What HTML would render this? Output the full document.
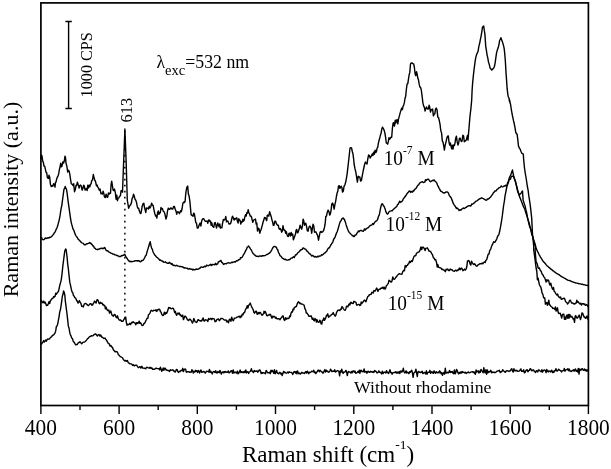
<!DOCTYPE html>
<html><head><meta charset="utf-8"><title>Raman spectra</title>
<style>html,body{margin:0;padding:0;background:#fff}svg{display:block}</style>
</head><body>
<svg width="611" height="469" viewBox="0 0 611 469">
<rect width="611" height="469" fill="#fff"/>
<g fill="none" stroke="#000" stroke-width="1.4" stroke-linejoin="round">
<path d="M41.0 159.1 L41.5 155.2 L42.0 156.1 L42.7 161.2 L43.3 162.1 L44.0 166.1 L44.7 166.2 L45.3 168.8 L46.0 172.1 L46.7 172.7 L47.4 177.6 L48.0 178.1 L48.5 178.4 L49.0 175.1 L49.7 177.3 L50.4 184.1 L51.2 186.5 L52.0 185.7 L52.8 186.2 L53.6 183.7 L54.3 184.5 L55.0 187.1 L55.5 182.1 L56.0 182.1 L56.7 178.9 L57.4 177.0 L58.0 176.1 L58.7 173.7 L59.4 169.5 L60.0 167.1 L60.7 163.3 L61.4 166.8 L62.0 166.1 L62.8 162.0 L63.6 163.1 L64.3 161.1 L65.0 156.1 L65.5 157.5 L66.0 163.1 L66.9 166.4 L67.7 172.1 L68.4 170.2 L69.1 171.1 L69.8 174.2 L70.5 179.1 L71.3 183.8 L72.1 184.1 L72.9 185.4 L73.7 183.7 L74.5 191.8 L75.3 189.5 L76.1 185.1 L76.7 185.5 L77.4 182.1 L78.1 184.5 L78.6 185.5 L79.1 188.1 L79.8 185.7 L80.5 185.1 L81.3 186.0 L82.1 190.1 L82.9 188.5 L83.7 185.1 L84.4 186.4 L85.1 190.1 L85.7 189.1 L86.4 188.6 L87.1 190.6 L87.8 185.2 L88.4 188.0 L89.1 185.1 L89.8 186.9 L90.4 184.5 L91.1 183.7 L91.8 180.3 L92.5 180.1 L93.3 174.5 L94.1 178.1 L94.9 180.4 L95.7 182.1 L96.4 185.7 L97.1 185.1 L97.8 187.1 L98.5 188.1 L99.3 190.2 L100.1 189.1 L100.9 193.7 L101.7 193.2 L102.4 194.1 L103.1 191.2 L103.8 193.4 L104.5 197.2 L105.3 197.5 L106.1 194.2 L106.9 197.0 L107.7 197.2 L108.4 193.0 L109.1 194.2 L109.8 193.0 L110.5 193.2 L111.1 184.7 L111.7 181.1 L112.4 185.5 L113.1 190.1 L113.8 190.6 L114.5 189.1 L115.3 192.3 L116.1 199.2 L116.8 195.3 L117.5 200.7 L118.1 198.2 L118.9 197.8 L119.7 196.2 L120.4 195.9 L121.1 190.6 L121.8 191.0 L122.5 192.2 L123.1 176.4 L123.7 160.1 L124.3 145.2 L124.9 129.0 L125.5 145.2 L126.1 160.1 L126.7 180.1 L127.3 200.2 L128.0 204.3 L128.6 208.2 L129.4 206.4 L130.2 205.2 L130.8 204.5 L131.5 202.3 L132.2 198.2 L132.8 197.5 L133.5 194.3 L134.2 195.8 L135.0 199.2 L135.8 200.2 L136.5 202.4 L137.2 206.2 L137.9 208.3 L138.6 208.2 L139.4 211.1 L140.2 213.2 L140.8 213.6 L141.5 210.5 L142.2 206.2 L143.0 203.9 L143.8 203.2 L144.5 207.3 L145.2 210.2 L145.8 212.5 L146.5 207.9 L147.2 208.2 L147.9 208.3 L148.5 208.9 L149.2 206.2 L150.0 208.0 L150.8 206.5 L151.6 203.1 L152.4 205.1 L153.2 205.5 L154.0 210.1 L154.8 213.5 L155.6 216.1 L156.3 215.6 L156.9 218.0 L157.6 212.5 L158.3 211.0 L158.9 214.4 L159.6 212.5 L160.3 212.7 L161.0 207.4 L161.6 209.1 L162.4 208.6 L163.2 211.1 L164.0 211.7 L164.7 213.3 L165.4 216.4 L166.0 219.1 L166.8 216.3 L167.6 210.4 L168.4 208.1 L169.2 209.4 L170.0 209.1 L170.7 208.0 L171.4 208.2 L172.0 209.1 L172.8 209.1 L173.6 206.4 L174.4 206.5 L175.2 209.3 L176.0 211.1 L176.7 214.2 L177.4 211.8 L178.0 212.1 L178.7 212.0 L179.4 213.6 L180.0 212.5 L180.7 210.6 L181.4 211.7 L182.1 208.5 L182.9 203.1 L183.7 202.1 L184.4 202.6 L185.1 201.1 L185.6 195.2 L186.1 191.1 L186.9 187.2 L187.7 186.1 L188.4 194.1 L189.1 196.1 L189.8 200.6 L190.5 208.1 L191.1 214.6 L191.7 215.1 L192.3 215.6 L193.0 216.3 L193.7 213.1 L194.4 214.0 L195.1 218.1 L195.8 222.7 L196.5 223.1 L197.3 228.1 L198.1 228.1 L198.7 226.3 L199.4 224.6 L200.1 223.1 L200.9 226.0 L201.7 220.8 L202.5 219.1 L203.2 218.7 L203.8 218.7 L204.5 220.1 L205.2 221.2 L205.8 221.4 L206.5 221.1 L207.2 221.1 L207.8 223.4 L208.5 220.1 L209.2 219.9 L209.8 221.6 L210.5 221.1 L211.2 225.3 L211.8 222.8 L212.5 226.1 L213.2 226.9 L213.8 227.3 L214.5 223.1 L215.2 222.5 L215.8 224.6 L216.5 228.1 L217.2 225.4 L217.8 223.0 L218.5 225.1 L219.2 226.9 L219.8 224.0 L220.5 228.1 L221.2 227.5 L221.9 227.7 L222.5 223.7 L223.4 219.5 L224.3 220.1 L225.1 219.1 L225.8 216.5 L226.5 221.8 L227.1 221.1 L227.8 220.9 L228.5 222.7 L229.1 224.1 L229.8 223.6 L230.5 223.7 L231.1 222.1 L231.8 218.5 L232.5 216.1 L233.3 218.1 L234.1 220.1 L234.8 218.5 L235.5 219.0 L236.1 218.1 L236.8 217.8 L237.5 221.6 L238.1 223.1 L238.8 218.8 L239.5 220.3 L240.1 220.1 L240.8 224.1 L241.5 221.6 L242.2 222.1 L242.8 219.3 L243.5 221.2 L244.2 220.1 L244.8 217.1 L245.5 214.6 L246.2 216.1 L246.8 212.7 L247.5 213.1 L248.2 209.7 L248.8 212.5 L249.5 213.8 L250.2 216.1 L250.8 215.9 L251.5 217.0 L252.2 220.1 L252.8 222.3 L253.5 220.3 L254.2 219.7 L254.8 219.6 L255.5 219.1 L256.2 224.1 L256.8 223.1 L257.5 231.0 L258.2 228.1 L259.0 228.7 L259.8 233.2 L260.4 231.0 L261.1 229.5 L261.8 227.1 L262.5 224.5 L263.1 222.0 L263.8 220.1 L264.5 217.5 L265.3 217.7 L266.0 219.1 L266.7 220.7 L267.3 215.2 L268.0 215.1 L268.8 216.2 L269.6 211.6 L270.4 214.1 L271.2 216.7 L272.0 220.1 L272.7 222.3 L273.3 225.3 L274.0 225.2 L274.8 221.2 L275.6 221.2 L276.3 223.5 L277.0 224.5 L277.6 225.2 L278.3 225.2 L279.0 228.6 L279.6 229.2 L280.3 228.6 L281.0 229.8 L281.6 232.2 L282.3 231.1 L283.0 225.6 L283.6 229.2 L284.3 230.3 L285.0 230.1 L285.6 233.2 L286.3 231.7 L287.0 234.5 L287.6 236.2 L288.3 236.5 L289.0 233.5 L289.6 233.2 L290.4 236.0 L291.2 232.5 L292.0 235.2 L292.7 234.0 L293.4 239.8 L294.0 238.2 L294.7 236.2 L295.4 234.4 L296.1 230.2 L296.7 229.4 L297.4 232.9 L298.1 232.2 L298.7 230.3 L299.4 228.6 L300.1 225.2 L300.9 227.2 L301.7 229.2 L302.4 226.2 L303.1 219.1 L303.8 221.1 L304.5 225.2 L305.1 223.9 L305.8 223.3 L306.5 226.2 L307.3 230.6 L308.1 231.2 L308.7 228.2 L309.4 226.1 L310.1 226.2 L310.9 228.1 L311.7 233.2 L312.4 227.9 L313.1 224.2 L313.8 226.0 L314.5 232.2 L315.2 232.0 L315.8 231.8 L316.5 233.2 L317.2 234.6 L317.8 236.2 L318.5 240.2 L319.3 236.2 L320.1 232.2 L320.8 231.4 L321.4 232.4 L322.1 232.2 L322.9 231.6 L323.7 230.2 L324.4 227.7 L325.1 224.2 L325.8 216.4 L326.5 216.1 L327.3 212.2 L328.1 210.1 L328.9 211.3 L329.7 215.1 L330.4 213.9 L331.1 210.1 L331.8 203.9 L332.5 203.1 L333.3 204.9 L334.1 209.1 L334.9 204.6 L335.7 201.1 L336.4 196.5 L337.1 193.1 L337.8 191.3 L338.5 186.1 L339.2 185.7 L339.9 188.4 L340.5 187.1 L341.2 186.3 L341.9 187.3 L342.5 192.1 L343.3 191.2 L344.1 186.1 L344.9 184.8 L345.7 182.1 L346.4 178.3 L347.1 174.1 L347.8 168.1 L348.5 162.0 L349.1 156.7 L349.7 151.0 L350.0 148.2 L350.8 147.7 L351.6 148.2 L352.3 151.5 L353.0 154.0 L353.6 158.8 L354.1 164.0 L354.9 168.4 L355.8 172.0 L356.6 177.1 L357.4 182.1 L358.2 176.2 L359.0 177.1 L359.8 176.9 L360.6 181.1 L361.4 180.5 L362.2 176.1 L363.0 171.8 L363.8 168.0 L364.6 164.4 L365.4 162.0 L366.2 163.4 L367.0 164.0 L367.8 158.8 L368.6 155.0 L369.4 155.6 L370.2 158.0 L370.8 156.9 L371.5 155.6 L372.2 154.0 L372.9 155.6 L373.6 152.2 L374.3 154.3 L375.1 150.2 L375.7 152.6 L376.4 151.8 L377.1 148.2 L377.7 147.3 L378.4 143.1 L379.1 140.2 L379.7 138.1 L380.4 135.3 L381.1 133.2 L381.8 128.9 L382.5 127.1 L383.3 128.5 L384.1 130.1 L384.9 133.1 L385.7 138.2 L386.3 143.0 L387.0 143.1 L387.7 144.2 L388.3 141.7 L389.0 137.6 L389.7 139.2 L390.3 138.4 L391.0 137.1 L391.7 137.2 L392.4 128.3 L393.1 123.1 L393.8 122.7 L394.5 126.1 L395.2 120.3 L395.8 123.1 L396.5 120.1 L397.2 119.7 L397.8 123.8 L398.5 119.1 L399.3 116.1 L400.1 113.1 L400.9 110.4 L401.7 108.1 L402.4 109.6 L403.0 106.3 L403.7 105.1 L404.4 102.4 L405.0 98.5 L405.7 96.1 L406.4 89.0 L407.1 84.1 L407.8 83.6 L408.4 79.7 L409.1 75.0 L409.8 72.4 L410.5 64.0 L411.3 62.9 L412.1 63.0 L412.9 63.6 L413.7 64.0 L414.4 67.5 L415.1 74.0 L415.8 75.7 L416.5 71.7 L417.1 74.0 L417.8 78.0 L418.5 80.0 L419.2 84.2 L419.9 87.1 L420.5 87.1 L421.3 90.0 L422.1 96.1 L422.9 102.9 L423.7 106.1 L424.4 107.4 L425.1 111.1 L425.8 108.8 L426.5 106.9 L427.1 108.1 L427.8 109.1 L428.5 108.9 L429.1 105.1 L429.8 107.6 L430.5 112.1 L431.2 109.8 L431.9 109.5 L432.6 109.1 L433.4 115.9 L434.2 114.1 L434.8 113.8 L435.5 109.2 L436.2 108.1 L437.0 109.6 L437.8 117.1 L438.5 117.5 L439.2 120.1 L440.0 124.1 L440.8 130.6 L441.6 133.1 L442.3 140.8 L443.0 142.1 L443.7 145.6 L444.4 150.1 L445.2 144.9 L446.0 142.1 L446.8 138.2 L447.6 136.1 L448.3 135.9 L449.0 142.1 L449.7 145.0 L450.4 142.9 L451.0 146.1 L451.7 148.9 L452.4 145.2 L453.0 149.1 L453.7 144.9 L454.4 145.6 L455.0 143.1 L455.7 138.3 L456.4 136.1 L457.2 141.9 L458.0 145.1 L458.7 142.8 L459.4 138.4 L460.0 138.1 L460.7 140.1 L461.4 141.5 L462.0 141.1 L462.8 135.3 L463.6 136.1 L464.3 141.7 L465.0 141.1 L465.7 140.6 L466.4 139.7 L467.0 137.1 L467.5 135.4 L468.0 140.1 L468.5 133.7 L469.0 128.1 L469.5 121.9 L470.0 116.0 L470.9 108.6 L471.7 100.0 L472.1 90.2 L472.6 83.4 L473.1 78.1 L473.8 71.7 L474.5 66.1 L475.3 60.1 L476.1 56.1 L476.7 54.3 L477.4 52.9 L478.1 51.1 L478.9 46.2 L479.7 43.1 L480.4 39.3 L481.1 36.1 L481.8 31.8 L482.5 27.0 L483.1 27.3 L483.7 26.0 L484.3 30.4 L484.9 34.1 L485.7 46.1 L486.4 50.4 L487.1 55.1 L487.8 58.0 L488.5 62.1 L489.3 64.6 L490.1 68.1 L490.9 68.8 L491.7 70.1 L492.4 69.5 L493.0 68.8 L493.7 68.1 L494.4 66.5 L495.1 63.1 L495.8 58.2 L496.5 53.1 L497.3 50.1 L498.1 48.1 L498.9 44.8 L499.7 40.1 L500.3 39.3 L500.9 37.7 L501.7 39.9 L502.5 42.1 L503.3 44.7 L504.1 48.1 L504.7 53.2 L505.3 60.1 L506.1 74.1 L506.6 80.6 L507.1 88.2 L507.6 92.6 L508.1 96.2 L508.8 97.8 L509.4 99.5 L510.1 102.2 L509.6 101.2 L509.1 100.0 L509.8 102.1 L510.5 104.0 L511.3 109.3 L512.1 114.0 L512.8 117.4 L513.5 120.7 L514.1 123.0 L514.9 127.1 L515.7 132.1 L516.4 133.6 L517.1 134.1 L517.8 139.6 L518.5 146.1 L519.3 147.9 L520.1 149.1 L520.9 151.2 L521.7 153.1 L522.5 153.7 L523.3 154.1 L523.7 160.0 L524.5 168.0 L525.3 173.5 L526.1 178.0 L526.7 182.0 L527.4 186.6 L528.1 190.1 L528.7 195.2 L529.4 199.5 L530.1 204.1 L530.9 210.8 L531.7 218.1 L532.5 234.2 L533.1 239.8 L533.7 246.2 L533.7 250.0 L534.4 254.7 L535.1 260.0 L535.6 263.9 L536.1 268.0 L536.8 271.3 L537.4 279.8 L538.1 278.1 L538.8 281.8 L539.4 284.7 L540.1 286.1 L540.8 287.0 L541.4 289.5 L542.1 293.1 L542.8 294.2 L543.4 296.8 L544.1 298.1 L544.8 298.0 L545.4 304.2 L546.1 303.1 L546.8 302.4 L547.4 305.3 L548.1 303.7 L548.8 300.2 L549.4 304.6 L550.1 305.1 L550.8 306.3 L551.5 306.8 L552.1 307.1 L552.8 308.5 L553.5 308.3 L554.1 308.1 L554.8 309.4 L555.5 306.9 L556.1 311.1 L556.8 310.3 L557.5 307.8 L558.1 312.1 L558.8 313.5 L559.5 313.3 L560.1 313.1 L560.9 315.3 L561.7 318.1 L562.4 314.7 L563.1 314.1 L563.8 314.1 L564.5 319.3 L565.1 317.1 L565.8 319.4 L566.5 315.7 L567.1 315.1 L567.8 318.3 L568.5 314.4 L569.1 318.1 L569.8 314.5 L570.5 316.7 L571.1 317.1 L571.8 316.3 L572.5 317.5 L573.2 319.1 L573.8 318.5 L574.5 322.3 L575.2 316.1 L575.8 315.7 L576.5 317.6 L577.2 318.1 L577.8 317.6 L578.5 316.1 L579.2 315.1 L579.8 317.4 L580.5 319.5 L581.2 317.1 L581.9 313.0 L582.6 313.1 L583.4 315.4 L584.2 317.1 L584.8 317.0 L585.5 318.4 L586.2 318.1 L586.8 316.2 L587.5 316.5 L588.2 320.1"/>
<path d="M41.0 238.1 L41.7 237.7 L42.3 239.4 L43.0 239.7 L43.8 239.5 L44.5 239.2 L45.3 237.9 L46.0 238.5 L46.8 238.3 L47.5 238.0 L48.3 237.7 L49.0 238.1 L49.8 237.3 L50.5 237.4 L51.3 236.8 L52.0 236.1 L52.8 235.1 L53.5 234.3 L54.3 232.9 L55.0 232.1 L55.7 230.6 L56.3 229.1 L57.0 227.8 L57.6 226.1 L58.3 223.4 L59.0 220.7 L59.6 218.1 L60.2 214.7 L60.7 211.1 L61.2 208.1 L61.8 205.6 L62.3 201.6 L62.8 198.0 L63.4 193.7 L64.0 189.0 L64.6 188.6 L65.2 186.4 L65.8 188.3 L66.4 189.0 L67.1 192.9 L67.7 198.0 L68.4 203.3 L69.1 208.1 L69.8 213.4 L70.5 218.1 L71.1 221.8 L71.8 224.6 L72.5 227.1 L73.1 229.2 L73.8 230.1 L74.4 232.0 L75.1 234.1 L75.8 235.5 L76.6 236.8 L77.3 237.5 L78.1 239.1 L78.8 239.7 L79.6 240.5 L80.3 241.4 L81.1 242.1 L81.8 242.9 L82.6 243.2 L83.3 243.4 L84.1 244.5 L84.8 244.8 L85.6 244.8 L86.3 243.9 L87.1 243.7 L87.7 243.8 L88.4 243.3 L89.0 243.1 L89.7 242.5 L90.3 243.2 L90.9 243.2 L91.5 244.3 L92.1 244.5 L92.8 245.8 L93.6 246.0 L94.3 248.0 L95.1 248.1 L95.8 249.2 L96.6 249.4 L97.4 249.7 L98.1 249.1 L98.9 249.3 L99.6 248.7 L100.4 248.5 L101.1 248.5 L101.8 248.2 L102.4 248.5 L103.1 248.3 L103.8 248.5 L104.4 247.4 L105.1 248.1 L105.8 249.9 L106.4 250.7 L107.1 250.6 L107.9 251.0 L108.6 251.8 L109.4 252.2 L110.1 252.6 L110.9 253.1 L111.6 253.3 L112.4 253.7 L113.1 254.2 L113.9 254.1 L114.6 254.7 L115.4 254.9 L116.1 255.2 L116.9 255.6 L117.6 255.5 L118.4 256.2 L119.1 256.6 L119.8 256.4 L120.5 256.5 L121.1 256.2 L121.8 255.4 L122.5 255.7 L123.1 255.2 L123.7 255.2 L124.2 254.7 L124.7 254.2 L125.4 255.5 L126.1 257.2 L126.8 258.0 L127.5 259.1 L128.2 260.2 L128.9 260.9 L129.7 261.6 L130.4 261.3 L131.2 261.8 L131.9 261.4 L132.7 261.6 L133.4 261.4 L134.2 261.2 L134.9 260.7 L135.7 260.6 L136.4 260.7 L137.2 260.6 L137.9 261.1 L138.7 260.7 L139.4 261.1 L140.2 261.8 L140.9 261.6 L141.7 260.5 L142.4 260.6 L143.2 260.2 L143.9 259.1 L144.7 257.6 L145.4 256.0 L146.2 255.2 L146.8 252.8 L147.5 250.4 L148.2 248.1 L148.9 246.1 L149.5 243.5 L150.2 241.7 L150.9 245.3 L151.6 248.1 L152.3 249.1 L152.9 251.4 L153.6 253.1 L154.2 253.9 L154.8 255.2 L155.4 255.4 L156.0 256.5 L156.8 257.4 L157.5 257.6 L158.3 258.7 L159.0 259.1 L159.8 260.3 L160.5 259.9 L161.3 260.8 L162.0 261.1 L162.7 261.0 L163.4 262.0 L164.0 262.3 L164.7 262.1 L165.4 261.8 L166.0 262.5 L166.7 262.8 L167.4 263.2 L168.0 263.2 L168.7 263.2 L169.4 262.3 L170.0 263.1 L170.7 263.2 L171.4 264.3 L172.0 263.6 L172.7 264.9 L173.4 265.5 L174.0 265.1 L174.7 265.6 L175.4 265.9 L176.0 265.5 L176.7 265.3 L177.4 265.9 L178.0 266.1 L178.7 266.1 L179.4 266.3 L180.0 266.7 L180.7 266.5 L181.4 266.7 L182.1 266.7 L182.7 267.1 L183.4 267.2 L184.1 268.2 L184.7 267.8 L185.4 267.9 L186.1 268.1 L186.7 268.2 L187.4 268.2 L188.1 269.2 L188.7 268.9 L189.4 268.5 L190.1 269.1 L190.7 269.0 L191.4 269.3 L192.1 269.2 L192.7 270.0 L193.4 269.2 L194.1 269.7 L194.7 269.8 L195.4 269.6 L196.1 269.0 L196.7 269.3 L197.4 269.2 L198.1 269.1 L198.7 269.0 L199.4 268.3 L200.1 268.2 L200.7 267.1 L201.4 267.0 L202.1 267.1 L202.8 267.3 L203.4 267.2 L204.1 266.6 L204.8 266.2 L205.4 266.7 L206.1 266.1 L206.8 265.1 L207.4 265.5 L208.1 265.9 L208.8 265.7 L209.4 264.9 L210.1 265.1 L210.8 264.3 L211.4 265.5 L212.1 264.9 L212.8 264.4 L213.4 264.6 L214.1 264.5 L214.9 264.8 L215.6 263.3 L216.4 264.7 L217.1 264.1 L217.8 263.6 L218.4 261.7 L219.1 261.7 L219.8 261.4 L220.5 260.5 L221.0 260.5 L221.6 262.3 L222.1 262.5 L222.8 263.2 L223.5 264.5 L224.1 264.1 L224.9 263.6 L225.6 263.6 L226.4 263.8 L227.1 263.1 L227.9 262.9 L228.6 262.8 L229.4 263.0 L230.1 263.1 L230.9 262.8 L231.6 262.2 L232.4 262.6 L233.1 262.1 L233.9 262.1 L234.6 261.6 L235.4 262.0 L236.1 261.1 L236.9 260.6 L237.6 260.9 L238.4 259.8 L239.1 259.7 L239.9 259.4 L240.6 257.6 L241.4 257.8 L242.2 257.1 L242.8 256.0 L243.4 254.9 L244.0 253.8 L244.6 253.1 L245.2 251.6 L245.9 250.1 L246.6 249.1 L247.2 247.2 L247.9 246.8 L248.6 246.1 L249.2 246.9 L249.9 247.9 L250.6 249.1 L251.2 249.8 L251.9 251.3 L252.6 252.5 L253.2 253.7 L253.9 254.1 L254.6 255.1 L255.2 255.1 L255.9 256.1 L256.5 256.2 L257.2 256.1 L257.9 256.5 L258.7 256.6 L259.4 256.0 L260.2 256.1 L260.9 255.9 L261.7 256.3 L262.4 255.6 L263.2 255.7 L263.6 255.7 L264.0 255.7 L264.8 255.6 L265.5 255.3 L266.3 254.7 L267.0 254.5 L267.8 254.4 L268.5 253.5 L269.3 253.3 L270.0 252.5 L270.6 252.0 L271.2 250.8 L271.8 249.8 L272.4 248.5 L273.1 247.4 L273.7 246.7 L274.4 246.5 L275.1 246.5 L275.8 247.1 L276.4 247.1 L277.0 249.1 L277.5 249.3 L278.0 251.1 L278.7 252.8 L279.4 253.9 L280.0 255.7 L280.8 256.1 L281.5 257.0 L282.3 258.1 L283.0 258.5 L283.8 258.9 L284.5 259.6 L285.3 259.1 L286.0 259.7 L286.8 260.1 L287.5 260.1 L288.3 259.8 L289.0 259.7 L289.8 259.5 L290.5 258.7 L291.3 258.1 L292.0 258.1 L292.8 257.4 L293.5 256.7 L294.3 257.5 L295.1 255.7 L295.8 254.7 L296.6 254.8 L297.3 253.4 L298.1 252.5 L298.8 252.0 L299.6 251.4 L300.3 250.1 L301.1 249.7 L301.7 249.7 L302.4 249.1 L303.0 247.9 L303.7 248.1 L304.3 248.7 L305.0 249.0 L305.7 249.1 L306.3 250.1 L306.9 251.3 L307.5 251.2 L308.1 252.1 L308.8 253.1 L309.6 253.9 L310.3 254.0 L311.1 255.1 L311.8 256.0 L312.6 255.4 L313.3 255.8 L314.1 256.7 L314.8 257.1 L315.6 256.5 L316.3 257.0 L317.1 257.1 L317.8 256.2 L318.6 256.7 L319.3 255.9 L320.1 256.1 L320.8 255.9 L321.6 254.7 L322.3 255.1 L323.1 254.5 L323.8 253.7 L324.6 253.2 L325.4 252.4 L326.1 251.7 L326.9 250.9 L327.6 249.4 L328.4 248.0 L329.1 248.1 L329.9 246.9 L330.6 245.2 L331.4 244.2 L332.1 243.1 L332.9 241.8 L333.6 239.3 L334.4 238.3 L335.1 237.1 L335.8 235.1 L336.4 233.2 L337.1 232.0 L337.7 230.1 L338.4 227.7 L339.1 225.1 L339.7 223.1 L340.4 221.3 L341.1 220.7 L341.7 219.1 L342.3 218.5 L342.8 218.6 L343.3 218.1 L343.9 219.2 L344.4 219.3 L344.9 221.1 L345.5 222.3 L346.0 224.4 L346.5 226.1 L347.2 227.9 L347.9 229.7 L348.5 231.1 L349.2 232.3 L349.8 233.2 L350.5 233.5 L351.1 234.5 L351.8 234.9 L352.4 235.8 L353.1 235.8 L353.7 236.5 L354.4 236.5 L355.1 234.9 L355.8 235.1 L356.4 234.4 L357.1 233.0 L357.8 232.1 L358.4 230.9 L359.0 231.7 L359.6 231.0 L360.2 230.5 L360.8 230.6 L361.4 230.4 L362.0 230.8 L362.6 231.1 L363.2 231.4 L363.9 230.3 L364.5 228.9 L365.2 230.1 L365.9 229.1 L366.7 228.4 L367.4 228.2 L368.2 227.7 L368.9 226.9 L369.7 226.0 L370.4 225.4 L371.2 225.1 L371.9 225.0 L372.7 223.5 L373.4 224.4 L374.2 223.1 L374.9 222.1 L375.7 221.1 L376.4 221.1 L377.2 220.1 L377.9 218.6 L378.5 216.3 L379.2 215.1 L379.9 211.8 L380.6 208.0 L381.3 205.1 L382.0 203.7 L382.7 204.1 L383.3 205.8 L384.0 206.1 L384.7 208.0 L385.3 209.6 L386.0 212.1 L386.5 213.0 L387.1 213.8 L387.6 214.1 L388.2 213.4 L388.8 211.9 L389.4 211.7 L390.0 211.1 L390.8 210.9 L391.5 210.7 L392.3 210.8 L393.0 209.7 L393.8 209.0 L394.5 208.2 L395.3 207.8 L396.0 207.1 L396.8 206.5 L397.5 204.4 L398.3 204.2 L399.0 202.5 L399.7 201.2 L400.3 202.4 L401.0 201.6 L401.6 201.7 L402.2 201.0 L402.8 200.2 L403.4 198.5 L404.0 198.1 L404.8 197.0 L405.5 196.0 L406.3 195.0 L407.0 193.7 L407.8 192.7 L408.5 192.0 L409.3 191.0 L410.0 191.1 L410.7 192.4 L411.3 191.5 L411.9 191.8 L412.5 192.1 L413.1 190.7 L413.8 191.0 L414.4 189.6 L415.1 189.1 L415.8 188.7 L416.6 187.4 L417.3 186.1 L418.1 185.1 L418.8 184.6 L419.6 183.1 L420.3 182.7 L421.1 182.1 L421.7 181.9 L422.4 181.8 L423.0 182.4 L423.7 182.5 L424.3 181.9 L424.9 182.0 L425.5 179.6 L426.1 180.5 L426.7 179.8 L427.3 179.4 L427.9 179.2 L428.5 179.1 L429.1 180.1 L429.8 181.0 L430.5 181.7 L431.1 181.3 L431.8 180.7 L432.4 180.7 L433.1 180.1 L433.7 180.6 L434.4 180.1 L435.0 181.2 L435.7 181.7 L436.3 182.2 L436.9 183.4 L437.5 185.0 L438.1 186.1 L438.7 187.4 L439.3 188.6 L439.9 189.5 L440.5 191.1 L441.2 191.4 L441.8 191.5 L442.5 192.4 L443.1 192.7 L443.8 192.8 L444.4 193.1 L445.1 192.7 L445.7 192.1 L446.3 191.9 L446.9 192.1 L447.5 192.0 L448.1 192.5 L448.7 193.8 L449.3 195.6 L449.9 196.2 L450.5 197.1 L451.2 197.7 L451.8 199.6 L452.5 201.1 L453.1 203.1 L453.8 204.3 L454.4 205.1 L455.1 206.2 L455.7 207.1 L456.4 208.4 L457.1 208.0 L457.8 208.6 L458.5 209.5 L459.2 210.5 L459.8 210.0 L460.5 209.7 L461.1 210.1 L461.9 208.9 L462.6 208.7 L463.4 207.9 L464.1 208.5 L464.9 208.1 L465.6 207.5 L466.4 207.4 L467.1 206.5 L467.9 206.3 L468.6 205.8 L469.4 205.6 L470.1 205.7 L470.9 206.0 L471.7 204.0 L472.4 204.3 L473.2 203.7 L473.9 203.1 L474.7 202.7 L475.4 201.6 L476.2 201.1 L476.9 200.8 L477.7 200.4 L478.4 199.5 L479.2 199.1 L479.9 198.6 L480.7 198.5 L481.4 197.8 L482.2 198.1 L482.9 198.4 L483.7 198.7 L484.4 199.4 L485.2 199.7 L485.9 200.3 L486.7 200.1 L487.4 199.0 L488.2 199.1 L488.9 198.7 L489.7 197.8 L490.4 197.3 L491.2 196.1 L491.9 195.1 L492.7 194.2 L493.4 192.8 L494.2 192.1 L494.9 190.9 L495.7 191.1 L496.4 190.5 L497.2 189.1 L497.8 189.0 L498.4 188.4 L499.0 187.7 L499.8 187.6 L500.5 186.9 L501.3 185.9 L502.0 186.7 L502.8 186.9 L503.5 186.5 L504.3 185.9 L505.0 186.1 L505.7 185.2 L506.4 186.1 L507.0 185.1 L507.7 182.4 L508.4 182.7 L509.0 180.0 L509.7 179.4 L510.4 179.3 L511.1 177.0 L511.7 176.3 L512.4 176.4 L513.1 176.0 L513.7 177.1 L514.4 178.8 L515.1 180.0 L515.7 182.9 L516.4 185.6 L517.1 189.1 L517.7 191.7 L518.4 192.6 L519.1 195.1 L519.7 194.1 L520.4 194.0 L521.1 193.1 L521.8 191.8 L522.5 191.1 L523.1 200.1 L523.7 201.9 L524.4 204.3 L525.1 206.1 L525.8 209.4 L526.6 212.4 L527.3 216.6 L528.1 220.1 L528.8 222.8 L529.6 226.6 L530.3 227.8 L531.1 231.2 L531.8 234.4 L532.6 236.3 L533.3 239.3 L534.1 242.2 L534.5 243.5 L534.9 245.0 L535.6 246.9 L536.3 248.6 L537.0 250.3 L537.7 251.9 L538.4 252.9 L539.0 254.5 L539.7 255.7 L540.5 257.1 L541.3 258.4 L542.1 259.6 L542.9 261.0 L543.6 261.9 L544.3 262.5 L545.0 263.3 L545.6 264.0 L546.3 264.9 L547.0 265.7 L547.7 266.3 L548.5 267.1 L549.3 267.6 L550.1 268.4 L550.9 269.1 L551.7 269.5 L552.5 270.5 L553.3 270.8 L554.1 271.6 L554.9 272.2 L555.7 272.7 L556.5 273.4 L557.3 273.8 L558.1 274.2 L558.9 274.7 L559.7 275.2 L560.5 275.9 L561.3 276.5 L562.1 276.8 L562.9 277.2 L563.7 277.8 L564.5 278.1 L565.3 278.6 L566.1 279.1 L566.9 279.6 L567.7 280.1 L568.5 280.4 L569.3 280.5 L570.1 280.7 L570.9 281.2 L571.7 281.5 L572.5 281.8 L573.3 282.1 L574.0 282.4 L574.7 282.5 L575.4 282.8 L576.1 283.0 L576.9 283.1 L577.6 283.3 L578.3 283.4 L579.0 283.8 L579.7 283.9 L580.5 283.9 L581.2 284.2 L582.0 284.2 L582.7 284.3 L583.5 284.7 L584.2 284.8 L585.0 284.9 L585.7 285.1 L586.3 285.4 L587.0 285.3 L587.6 285.6 L588.3 285.8"/>
<path d="M41.0 300.1 L41.7 301.2 L42.3 302.6 L43.0 302.5 L43.7 301.2 L44.3 303.1 L45.0 302.1 L45.7 303.4 L46.4 305.6 L47.0 305.1 L47.7 305.3 L48.4 303.5 L49.0 301.7 L49.7 303.6 L50.4 300.7 L51.0 300.1 L51.7 299.0 L52.4 298.4 L53.0 298.1 L53.7 296.6 L54.4 297.0 L55.0 296.5 L55.7 293.3 L56.4 294.2 L57.0 293.1 L57.7 292.2 L58.4 291.5 L59.0 289.1 L59.7 285.7 L60.4 283.1 L61.2 280.1 L62.0 274.1 L62.8 266.3 L63.6 260.0 L64.2 255.4 L64.8 251.0 L65.6 249.0 L66.1 249.5 L66.7 254.0 L67.2 258.2 L67.7 264.1 L68.4 269.2 L69.1 276.1 L69.8 282.2 L70.5 285.1 L71.3 289.2 L72.1 292.1 L72.7 292.3 L73.4 295.4 L74.1 296.1 L74.7 297.6 L75.4 297.9 L76.1 299.1 L76.7 300.5 L77.4 301.5 L78.1 303.1 L78.7 302.2 L79.4 300.6 L80.1 302.1 L80.9 303.4 L81.7 306.2 L82.5 306.1 L83.3 306.9 L84.2 304.2 L85.1 303.7 L85.9 303.4 L86.8 304.4 L87.7 305.1 L88.5 305.6 L89.3 304.6 L90.1 303.7 L90.9 303.6 L91.7 305.1 L92.5 305.1 L93.2 303.6 L93.8 303.0 L94.5 301.1 L95.3 301.7 L96.1 303.1 L96.9 299.9 L97.7 299.7 L98.4 301.1 L99.0 303.2 L99.7 303.7 L100.5 302.3 L101.3 303.2 L102.1 303.1 L102.8 304.9 L103.4 304.5 L104.1 305.7 L104.8 305.5 L105.4 308.9 L106.1 307.1 L106.8 309.2 L107.5 310.5 L108.1 310.6 L108.8 309.9 L109.5 313.1 L110.1 311.8 L110.8 311.1 L111.5 313.5 L112.1 315.2 L112.8 315.8 L113.5 316.2 L114.1 314.6 L114.8 314.4 L115.5 315.6 L116.1 317.2 L116.8 317.7 L117.5 315.8 L118.1 318.2 L118.8 319.5 L119.5 320.1 L120.1 320.2 L120.8 320.0 L121.5 321.4 L122.1 321.2 L122.8 321.3 L123.5 320.2 L124.1 319.2 L124.9 318.7 L125.7 317.2 L126.4 322.8 L127.1 325.2 L127.8 324.3 L128.5 324.7 L129.2 324.2 L129.8 323.3 L130.5 324.6 L131.2 323.2 L131.8 322.3 L132.5 322.7 L133.2 321.8 L133.8 322.4 L134.5 322.8 L135.2 323.2 L135.8 324.8 L136.5 322.7 L137.2 322.6 L137.8 323.6 L138.5 322.5 L139.2 321.2 L139.8 323.4 L140.5 322.7 L141.2 323.8 L141.8 325.2 L142.5 325.5 L143.2 325.2 L143.8 323.5 L144.5 323.5 L145.2 322.2 L145.8 320.7 L146.5 319.5 L147.2 318.2 L147.9 318.2 L148.5 314.7 L149.2 314.2 L150.0 313.1 L150.8 310.8 L151.5 310.3 L152.3 311.1 L153.0 311.1 L153.8 310.1 L154.5 310.4 L155.3 310.7 L156.0 309.7 L156.8 311.4 L157.5 309.7 L158.3 309.7 L159.0 309.1 L159.7 309.3 L160.4 311.7 L161.0 312.1 L161.9 314.6 L162.8 315.5 L163.6 315.1 L164.4 312.2 L165.2 314.3 L166.0 312.5 L166.7 313.3 L167.4 311.5 L168.0 309.7 L168.7 307.5 L169.4 308.0 L170.0 307.7 L170.7 308.6 L171.4 308.7 L172.0 308.5 L172.7 308.2 L173.4 308.6 L174.0 310.1 L174.7 312.5 L175.4 311.4 L176.0 314.1 L176.7 315.3 L177.4 313.5 L178.0 313.1 L178.7 314.1 L179.4 313.0 L180.0 315.1 L180.7 314.8 L181.4 316.5 L182.1 316.1 L182.7 315.2 L183.4 319.6 L184.1 318.1 L184.7 316.3 L185.4 316.2 L186.1 317.1 L186.7 318.2 L187.4 319.6 L188.1 320.1 L188.7 320.6 L189.4 319.1 L190.1 319.1 L190.9 320.2 L191.7 321.5 L192.5 323.1 L193.1 321.5 L193.8 318.4 L194.5 320.1 L195.1 321.9 L195.8 322.0 L196.5 322.5 L197.1 321.8 L197.8 320.0 L198.5 319.7 L199.1 320.5 L199.8 320.6 L200.5 321.1 L201.2 320.4 L201.8 321.0 L202.5 319.1 L203.2 318.0 L203.8 320.7 L204.5 321.1 L205.4 319.7 L206.2 320.1 L207.1 320.1 L207.8 321.5 L208.6 318.5 L209.3 319.3 L210.1 319.1 L210.9 318.3 L211.7 319.7 L212.5 318.5 L213.4 318.6 L214.2 318.9 L215.1 321.7 L216.0 321.4 L216.8 319.6 L217.7 319.1 L218.5 319.0 L219.3 320.7 L220.1 319.7 L220.9 318.4 L221.7 318.5 L222.5 318.5 L223.4 319.2 L224.3 320.0 L225.1 320.1 L226.0 319.9 L226.9 321.9 L227.7 321.1 L228.5 322.8 L229.3 319.4 L230.1 319.1 L230.9 321.3 L231.7 317.3 L232.5 319.7 L233.4 320.7 L234.3 318.3 L235.1 318.1 L236.0 317.9 L236.9 317.1 L237.7 317.1 L238.5 316.6 L239.3 316.2 L240.1 317.7 L240.8 316.1 L241.5 316.7 L242.2 314.1 L243.0 314.8 L243.8 312.7 L244.6 312.5 L245.2 310.5 L245.9 308.8 L246.6 308.1 L247.2 305.8 L247.9 308.0 L248.6 305.1 L249.4 304.8 L250.2 303.1 L251.0 305.2 L251.8 307.1 L252.4 308.3 L253.1 309.4 L253.8 312.1 L254.4 313.2 L255.1 312.3 L255.8 311.1 L256.4 311.1 L257.1 314.2 L257.8 314.1 L258.4 312.4 L259.1 313.7 L259.8 312.5 L260.4 312.4 L261.1 313.8 L261.8 315.1 L262.5 315.0 L263.1 314.2 L263.8 313.1 L264.0 311.2 L264.7 312.9 L265.3 311.6 L266.0 313.2 L266.7 315.5 L267.3 315.9 L268.0 315.2 L268.7 314.8 L269.3 315.0 L270.0 314.2 L270.7 314.7 L271.3 316.7 L272.0 318.2 L272.7 316.1 L273.3 316.9 L274.0 316.2 L274.7 316.7 L275.4 318.2 L276.0 317.2 L276.7 318.6 L277.4 319.0 L278.0 318.6 L278.7 318.6 L279.4 319.1 L280.0 319.8 L280.8 318.2 L281.6 317.6 L282.4 316.2 L283.2 315.9 L284.0 319.8 L284.8 320.4 L285.6 317.7 L286.4 319.2 L287.3 318.3 L288.2 318.5 L289.0 318.2 L289.7 316.0 L290.4 316.6 L291.0 313.2 L291.7 311.7 L292.4 312.1 L293.0 309.1 L293.7 309.7 L294.4 307.3 L295.1 307.1 L295.7 306.6 L296.4 306.5 L297.1 304.1 L297.8 302.6 L298.5 301.7 L299.3 302.8 L300.1 303.7 L300.7 303.3 L301.4 304.1 L302.1 304.1 L302.7 304.1 L303.4 304.9 L304.1 305.1 L304.9 308.7 L305.7 310.1 L306.3 313.0 L307.0 313.0 L307.7 314.2 L308.3 315.0 L309.0 316.4 L309.7 316.2 L310.3 316.2 L311.0 315.7 L311.7 317.2 L312.3 319.3 L313.0 318.2 L313.7 320.2 L314.3 320.8 L315.0 318.5 L315.7 319.2 L316.4 322.0 L317.0 319.8 L317.7 321.8 L318.4 322.1 L319.0 322.3 L319.7 320.2 L320.4 321.0 L321.1 323.8 L321.8 324.1 L322.4 320.5 L323.1 320.2 L323.8 318.0 L324.4 320.3 L325.1 319.2 L325.8 317.9 L326.5 315.2 L327.2 315.6 L327.8 313.8 L328.5 317.2 L329.2 316.6 L329.8 315.9 L330.5 315.8 L331.2 314.8 L331.8 314.4 L332.5 314.2 L333.2 312.6 L333.8 314.2 L334.5 315.2 L335.2 316.2 L335.9 315.1 L336.5 312.6 L337.2 311.4 L337.9 310.2 L338.5 310.1 L339.2 310.2 L339.9 310.6 L340.5 309.1 L341.2 309.2 L341.9 306.6 L342.5 307.1 L343.2 308.3 L343.9 309.3 L344.5 310.1 L345.2 310.3 L345.9 308.7 L346.5 306.1 L347.2 306.4 L347.9 306.8 L348.5 305.1 L349.2 303.9 L349.9 305.0 L350.5 302.5 L351.2 302.3 L351.9 303.4 L352.5 303.1 L353.2 303.6 L353.9 301.2 L354.5 301.7 L355.2 302.1 L355.9 302.1 L356.6 305.1 L357.2 305.1 L357.9 304.7 L358.6 304.5 L359.2 304.4 L359.9 305.5 L360.6 305.1 L361.2 302.0 L361.9 303.4 L362.6 302.5 L363.2 301.8 L363.9 300.6 L364.6 300.1 L365.2 300.8 L365.9 301.7 L366.6 299.7 L367.2 298.1 L367.9 296.3 L368.6 296.1 L369.2 294.8 L369.9 294.9 L370.6 294.1 L371.2 294.2 L371.9 292.1 L372.6 292.5 L373.2 293.1 L373.9 290.5 L374.6 291.1 L375.2 291.0 L375.9 289.6 L376.6 288.1 L377.3 289.1 L377.9 291.4 L378.6 289.7 L379.3 289.2 L380.0 289.2 L380.8 288.3 L381.6 288.3 L382.4 287.2 L383.3 288.7 L384.1 287.1 L385.0 289.2 L385.7 288.1 L386.3 285.7 L387.0 285.2 L387.7 284.2 L388.3 283.3 L389.0 280.1 L389.7 280.9 L390.4 281.4 L391.0 282.2 L391.9 281.3 L392.8 277.0 L393.6 279.1 L394.4 279.3 L395.2 278.4 L396.0 277.1 L396.8 276.4 L397.6 275.0 L398.4 274.5 L399.3 273.6 L400.2 274.1 L401.0 274.1 L401.9 274.2 L402.8 271.6 L403.6 270.5 L404.4 270.8 L405.2 265.5 L406.0 267.1 L406.7 265.6 L407.4 265.4 L408.0 264.1 L408.8 263.6 L409.6 261.3 L410.4 262.5 L411.3 260.7 L412.2 261.6 L413.1 259.1 L413.9 256.6 L414.8 255.8 L415.7 255.7 L416.5 253.3 L417.3 252.7 L418.1 252.1 L418.7 252.1 L419.4 251.4 L420.1 250.1 L420.9 246.9 L421.7 249.6 L422.5 247.1 L423.1 247.1 L423.8 247.8 L424.5 249.1 L425.1 250.5 L425.8 248.3 L426.5 248.1 L427.3 247.8 L428.2 249.4 L429.1 251.1 L429.9 251.2 L430.8 251.8 L431.7 253.7 L432.5 254.8 L433.3 257.6 L434.1 258.1 L434.9 259.9 L435.7 259.6 L436.5 262.5 L437.2 267.0 L437.8 264.5 L438.5 267.1 L439.4 267.6 L440.2 267.8 L441.1 268.1 L442.0 269.6 L442.8 269.1 L443.7 270.1 L444.5 270.3 L445.3 271.7 L446.1 269.1 L446.9 269.7 L447.7 268.9 L448.5 270.5 L449.4 270.6 L450.2 269.1 L451.1 269.7 L452.0 269.8 L452.9 270.9 L453.7 271.1 L454.5 271.2 L455.3 270.2 L456.1 270.1 L456.9 271.0 L457.7 269.9 L458.5 270.1 L459.4 268.1 L460.3 269.7 L461.1 268.1 L462.0 268.4 L462.9 270.7 L463.7 270.1 L464.5 269.1 L465.3 270.1 L466.1 269.1 L466.8 266.8 L467.5 260.9 L468.1 261.1 L468.8 260.5 L469.5 261.9 L470.1 264.1 L470.8 265.1 L471.5 261.1 L472.2 262.5 L473.0 263.9 L473.8 264.5 L474.6 263.7 L475.4 265.0 L476.3 266.0 L477.2 266.1 L478.0 264.8 L478.9 264.5 L479.8 263.7 L480.6 263.8 L481.4 263.8 L482.2 263.1 L482.9 263.7 L483.7 262.6 L484.4 261.9 L485.2 262.5 L485.8 260.4 L486.5 260.0 L487.2 258.1 L488.1 254.3 L489.0 254.0 L489.7 250.7 L490.4 249.7 L491.0 248.2 L491.7 245.9 L492.4 244.7 L493.0 243.2 L493.7 241.7 L494.4 242.4 L495.0 242.2 L495.7 240.7 L496.4 239.8 L497.0 238.2 L497.7 236.0 L498.4 235.4 L499.0 234.2 L499.7 231.0 L500.4 227.7 L501.0 224.1 L501.7 220.0 L502.4 215.2 L503.0 210.1 L503.7 205.0 L504.4 201.0 L505.0 196.1 L505.7 192.6 L506.4 189.0 L507.0 186.1 L507.7 184.4 L508.4 181.1 L509.0 179.0 L509.7 177.0 L510.4 175.5 L511.1 174.0 L511.8 171.7 L512.5 170.0 L513.1 173.5 L513.7 176.0 L514.3 178.2 L515.0 180.6 L515.7 182.0 L516.3 184.9 L517.0 187.1 L517.7 190.1 L518.3 192.9 L519.0 194.5 L519.7 197.1 L520.5 198.9 L521.3 201.0 L522.1 203.1 L522.8 204.9 L523.6 207.1 L524.3 208.1 L525.1 210.1 L525.8 212.8 L526.6 215.1 L527.3 217.1 L528.1 220.1 L528.8 222.2 L529.6 225.0 L530.3 227.8 L531.1 230.1 L531.8 233.0 L532.4 235.7 L533.1 238.2 L534.0 240.9 L534.8 243.3 L535.7 246.2 L535.1 250.0 L535.6 256.2 L536.1 262.0 L536.8 263.0 L537.4 264.6 L538.1 268.0 L538.8 268.4 L539.4 267.9 L540.1 270.0 L540.8 270.8 L541.4 271.9 L542.1 274.1 L542.8 274.5 L543.4 276.0 L544.1 277.1 L544.8 277.9 L545.4 279.9 L546.1 282.1 L546.8 279.6 L547.4 280.9 L548.1 280.1 L548.8 280.8 L549.4 283.8 L550.1 285.1 L550.8 283.1 L551.5 286.2 L552.1 288.1 L552.8 289.3 L553.5 287.5 L554.1 291.1 L554.8 291.7 L555.5 293.2 L556.1 294.1 L556.9 295.0 L557.6 294.0 L558.4 296.6 L559.1 297.1 L559.9 297.8 L560.6 297.1 L561.4 299.4 L562.1 299.1 L562.8 298.7 L563.5 298.5 L564.1 298.1 L564.8 299.0 L565.5 301.4 L566.1 302.1 L566.8 302.5 L567.5 304.0 L568.1 303.1 L568.8 302.6 L569.5 300.5 L570.1 300.1 L570.8 300.9 L571.5 303.1 L572.2 303.1 L572.8 302.9 L573.5 303.9 L574.2 303.7 L574.8 304.1 L575.5 303.1 L576.2 303.1 L576.8 300.2 L577.5 302.3 L578.2 301.7 L578.8 302.7 L579.5 303.5 L580.2 304.1 L580.8 303.2 L581.5 305.1 L582.2 303.7 L582.8 303.8 L583.5 303.6 L584.2 304.5 L584.8 304.0 L585.5 305.3 L586.2 305.1 L586.8 304.6 L587.5 305.4 L588.2 307.1"/>
<path d="M41.0 343.7 L41.7 344.0 L42.3 342.8 L43.0 342.1 L43.7 340.6 L44.3 342.0 L45.0 341.1 L45.7 340.0 L46.4 341.2 L47.0 339.7 L47.7 339.0 L48.4 339.2 L49.0 339.1 L49.7 338.7 L50.4 337.5 L51.0 337.1 L51.7 336.6 L52.4 335.4 L53.0 335.1 L53.7 335.0 L54.4 333.8 L55.0 333.1 L55.7 330.9 L56.4 326.4 L57.0 326.1 L57.7 324.0 L58.4 320.1 L59.0 317.1 L59.7 312.1 L60.4 309.8 L61.0 306.1 L61.7 301.4 L62.4 296.0 L63.0 294.3 L63.6 291.0 L64.2 292.2 L64.8 295.0 L65.4 301.7 L66.0 306.1 L66.9 313.0 L67.7 320.1 L68.3 325.9 L69.0 328.0 L69.7 332.1 L70.3 334.6 L71.0 335.8 L71.7 338.1 L72.5 338.6 L73.3 341.6 L74.1 342.1 L74.9 343.6 L75.7 344.9 L76.5 344.5 L77.3 344.5 L78.2 342.8 L79.1 342.5 L79.9 341.7 L80.8 342.8 L81.7 343.7 L82.5 342.7 L83.3 342.1 L84.1 342.1 L84.9 341.9 L85.7 341.0 L86.5 340.1 L87.4 338.9 L88.2 338.3 L89.1 337.1 L90.0 336.5 L90.8 336.3 L91.7 335.7 L92.5 335.9 L93.3 335.6 L94.1 334.5 L94.9 334.2 L95.7 333.8 L96.5 335.1 L97.4 336.0 L98.2 334.8 L99.1 334.5 L100.0 336.2 L100.8 335.0 L101.7 337.1 L102.5 337.3 L103.3 338.1 L104.1 338.5 L104.9 338.0 L105.7 339.2 L106.5 340.1 L107.4 341.9 L108.3 343.3 L109.1 343.7 L110.0 346.1 L110.9 345.4 L111.7 347.1 L112.5 347.2 L113.3 349.8 L114.1 350.6 L114.9 351.7 L115.7 351.5 L116.5 351.8 L117.4 351.9 L118.3 354.6 L119.1 355.2 L120.0 356.4 L120.9 356.9 L121.7 357.2 L122.5 357.8 L123.3 359.4 L124.1 360.2 L124.9 361.1 L125.7 360.4 L126.5 361.2 L127.4 360.5 L128.3 362.8 L129.2 363.2 L130.0 363.9 L130.9 363.9 L131.8 364.2 L132.6 365.4 L133.4 364.8 L134.2 365.8 L135.0 365.5 L135.8 365.2 L136.6 365.2 L137.4 366.3 L138.3 367.7 L139.2 367.2 L140.0 366.7 L140.9 368.1 L141.8 366.2 L142.6 368.0 L143.4 368.1 L144.2 368.2 L145.0 368.3 L145.8 368.8 L146.6 367.2 L147.4 367.4 L148.3 367.8 L149.2 368.2 L150.1 367.3 L150.9 368.3 L151.8 367.8 L152.6 369.3 L153.4 369.1 L154.2 369.2 L154.9 369.2 L155.5 368.4 L156.2 368.2 L157.1 368.5 L158.0 368.6 L159.0 368.7 L159.7 370.0 L160.4 367.3 L161.1 369.0 L161.8 371.3 L162.5 369.9 L163.2 368.0 L163.9 370.3 L164.6 368.1 L165.3 368.2 L166.0 370.1 L166.7 369.9 L167.4 370.3 L168.1 370.5 L168.8 370.7 L169.5 371.4 L170.2 369.7 L170.9 370.4 L171.6 370.2 L172.3 369.8 L173.0 370.0 L173.7 371.1 L174.4 371.0 L175.1 372.2 L175.8 370.9 L176.5 369.4 L177.2 369.7 L177.9 371.8 L178.6 372.4 L179.3 371.4 L180.0 371.7 L180.7 370.6 L181.4 370.3 L182.1 370.7 L182.8 368.3 L183.5 371.5 L184.2 369.5 L184.9 369.0 L185.6 369.1 L186.3 372.2 L187.0 371.8 L187.7 371.7 L188.4 371.8 L189.1 371.9 L189.8 372.3 L190.5 371.9 L191.2 372.2 L191.9 369.8 L192.6 370.3 L193.3 373.0 L194.0 371.8 L194.7 372.1 L195.4 370.3 L196.1 371.2 L196.8 370.8 L197.5 372.5 L198.2 370.4 L198.9 371.4 L199.6 373.0 L200.3 370.8 L201.0 370.1 L201.7 372.3 L202.4 372.0 L203.1 371.8 L203.8 371.4 L204.5 372.0 L205.2 373.2 L205.9 372.2 L206.6 371.3 L207.3 371.4 L208.0 371.4 L208.7 372.1 L209.4 369.5 L210.1 372.2 L210.8 371.3 L211.5 372.3 L212.2 373.9 L212.9 372.0 L213.6 371.5 L214.3 371.7 L215.0 372.6 L215.7 370.7 L216.4 372.5 L217.1 373.1 L217.8 371.4 L218.5 372.3 L219.2 372.7 L219.9 370.4 L220.6 371.9 L221.3 374.1 L222.0 372.5 L222.7 371.9 L223.4 372.7 L224.1 371.5 L224.8 372.6 L225.5 371.5 L226.2 372.0 L226.9 372.3 L227.6 372.3 L228.3 370.9 L229.0 372.9 L229.7 372.4 L230.4 371.8 L231.1 370.7 L231.8 371.0 L232.5 373.2 L233.2 370.0 L233.9 373.0 L234.6 372.1 L235.3 372.1 L236.0 372.8 L236.7 373.1 L237.4 371.1 L238.1 373.8 L238.8 373.1 L239.5 371.5 L240.2 370.1 L240.9 372.5 L241.6 371.8 L242.3 372.5 L243.0 371.7 L243.7 372.7 L244.4 371.2 L245.1 372.6 L245.8 370.0 L246.5 372.8 L247.2 371.6 L247.9 371.8 L248.6 373.4 L249.3 371.8 L250.0 371.6 L250.7 370.7 L251.4 368.6 L252.1 371.3 L252.8 371.8 L253.5 372.6 L254.2 370.5 L254.9 371.3 L255.6 371.1 L256.3 371.2 L257.0 370.8 L257.7 372.2 L258.4 371.3 L259.1 370.2 L259.8 369.9 L260.5 371.2 L261.2 373.5 L261.9 372.6 L262.6 373.2 L263.3 372.6 L264.0 372.8 L264.7 373.2 L265.4 373.8 L266.1 370.4 L266.8 371.2 L267.5 372.7 L268.2 372.6 L268.9 372.9 L269.6 372.3 L270.3 373.7 L271.0 370.1 L271.7 371.8 L272.4 370.4 L273.1 371.4 L273.8 373.4 L274.5 369.8 L275.2 373.7 L275.9 372.5 L276.6 370.4 L277.3 373.1 L278.0 373.4 L278.7 373.8 L279.4 372.5 L280.1 372.4 L280.8 374.1 L281.5 373.2 L282.2 375.6 L282.9 373.2 L283.6 371.5 L284.3 372.5 L285.0 372.2 L285.7 372.8 L286.4 373.2 L287.1 372.7 L287.8 372.0 L288.5 373.0 L289.2 371.8 L289.9 372.4 L290.6 372.4 L291.3 372.5 L292.0 372.8 L292.7 374.5 L293.4 372.8 L294.1 371.5 L294.8 371.6 L295.5 373.1 L296.2 371.5 L296.9 373.9 L297.6 371.0 L298.3 372.9 L299.0 373.8 L299.7 373.1 L300.4 374.0 L301.1 373.3 L301.8 372.3 L302.5 373.1 L303.2 372.9 L303.9 373.2 L304.6 373.5 L305.3 372.1 L306.0 371.6 L306.7 373.1 L307.4 371.2 L308.1 372.4 L308.8 373.8 L309.5 372.2 L310.2 372.4 L310.9 372.2 L311.6 371.2 L312.3 371.5 L313.0 371.7 L313.7 370.2 L314.4 372.5 L315.1 372.0 L315.8 373.6 L316.5 372.4 L317.2 371.8 L317.9 370.3 L318.6 370.2 L319.3 371.8 L320.0 370.2 L320.7 370.9 L321.4 371.8 L322.1 372.0 L322.8 373.1 L323.5 372.8 L324.2 370.8 L324.9 369.6 L325.6 372.1 L326.3 370.2 L327.0 371.4 L327.7 371.3 L328.4 372.2 L329.1 371.9 L329.8 371.4 L330.5 369.1 L331.2 370.1 L331.9 371.6 L332.6 371.2 L333.3 371.1 L334.0 371.4 L334.7 369.7 L335.4 372.0 L336.1 371.6 L336.8 371.0 L337.5 370.6 L338.2 370.8 L338.9 371.3 L339.6 375.8 L340.3 370.9 L341.0 372.2 L341.7 369.1 L342.4 371.8 L343.1 373.4 L343.8 372.0 L344.5 372.2 L345.2 371.8 L345.9 370.4 L346.6 371.6 L347.3 375.6 L348.0 372.4 L348.7 371.4 L349.4 372.0 L350.1 372.1 L350.8 373.0 L351.5 371.5 L352.2 372.8 L352.9 370.9 L353.6 370.9 L354.3 372.2 L355.0 371.0 L355.7 373.2 L356.4 373.0 L357.1 372.6 L357.8 371.6 L358.5 372.4 L359.2 370.1 L359.9 373.3 L360.6 370.4 L361.3 370.3 L362.0 371.7 L362.7 371.5 L363.4 371.8 L364.1 369.0 L364.8 372.2 L365.5 371.6 L366.2 371.4 L366.9 373.3 L367.6 371.5 L368.3 371.3 L369.0 372.2 L369.7 372.4 L370.4 371.3 L371.1 372.0 L371.8 371.5 L372.5 372.3 L373.2 371.8 L373.9 372.4 L374.6 370.4 L375.3 371.3 L376.0 371.2 L376.7 372.7 L377.4 372.8 L378.1 372.4 L378.8 370.9 L379.5 372.2 L380.2 372.1 L380.9 372.9 L381.6 373.9 L382.3 371.1 L383.0 373.6 L383.7 372.5 L384.4 372.2 L385.1 372.2 L385.8 373.0 L386.5 370.6 L387.2 372.6 L387.9 372.5 L388.6 373.5 L389.3 371.7 L390.0 369.8 L390.7 372.5 L391.4 372.4 L392.1 374.2 L392.8 372.7 L393.5 372.7 L394.2 372.5 L394.9 372.4 L395.6 371.7 L396.3 373.1 L397.0 371.9 L397.7 373.1 L398.4 373.0 L399.1 371.5 L399.8 373.6 L400.5 371.4 L401.2 370.9 L401.9 372.2 L402.6 371.2 L403.3 368.3 L404.0 371.7 L404.7 373.0 L405.4 372.6 L406.1 370.8 L406.8 373.0 L407.5 372.1 L408.2 372.5 L408.9 373.7 L409.6 371.6 L410.3 372.2 L411.0 371.1 L411.7 370.3 L412.4 372.8 L413.1 377.4 L413.8 373.0 L414.5 372.5 L415.2 371.9 L415.9 369.1 L416.6 373.0 L417.3 376.5 L418.0 371.8 L418.7 371.4 L419.4 372.2 L420.1 372.3 L420.8 372.6 L421.5 372.1 L422.2 371.2 L422.9 373.5 L423.6 373.2 L424.3 372.5 L425.0 372.5 L425.7 374.0 L426.4 370.8 L427.1 374.1 L427.8 372.5 L428.5 372.3 L429.2 372.2 L429.9 370.3 L430.6 373.4 L431.3 371.9 L432.0 371.6 L432.7 372.9 L433.4 373.3 L434.1 370.8 L434.8 372.3 L435.5 373.2 L436.2 371.7 L436.9 372.6 L437.6 372.7 L438.3 372.0 L439.0 372.9 L439.7 370.8 L440.4 371.8 L441.1 373.9 L441.8 372.7 L442.5 375.3 L443.2 373.3 L443.9 372.4 L444.6 374.2 L445.3 368.3 L446.0 373.1 L446.7 372.8 L447.4 372.3 L448.1 373.1 L448.8 372.2 L449.5 370.5 L450.2 372.6 L450.9 371.6 L451.6 372.2 L452.3 371.6 L453.0 373.3 L453.7 373.7 L454.4 370.0 L455.1 373.9 L455.8 372.7 L456.5 369.5 L457.2 370.6 L457.9 372.5 L458.6 373.8 L459.3 372.4 L460.0 373.4 L460.7 372.0 L461.4 372.9 L462.1 371.5 L462.8 372.6 L463.5 372.1 L464.2 372.4 L464.9 373.0 L465.6 372.2 L466.3 373.4 L467.0 373.0 L467.7 372.3 L468.4 372.0 L469.1 372.8 L469.8 372.6 L470.5 372.4 L471.2 371.9 L471.9 371.9 L472.6 371.6 L473.3 372.6 L474.0 371.8 L474.7 373.3 L475.4 374.2 L476.1 369.9 L476.8 372.0 L477.5 371.6 L478.2 370.7 L478.9 373.0 L479.6 371.1 L480.3 372.3 L481.0 369.4 L481.7 370.6 L482.4 371.4 L483.1 372.8 L483.8 367.6 L484.5 371.7 L485.2 372.8 L485.9 369.8 L486.6 374.2 L487.3 370.0 L488.0 372.7 L488.7 371.5 L489.4 372.1 L490.1 371.3 L490.8 370.3 L491.5 372.7 L492.2 371.9 L492.9 372.6 L493.6 372.1 L494.3 372.1 L495.0 372.7 L495.7 372.2 L496.4 371.8 L497.1 371.1 L497.8 371.0 L498.5 370.9 L499.2 370.3 L499.9 372.0 L500.6 372.6 L501.3 371.5 L502.0 371.5 L502.7 369.7 L503.4 370.8 L504.1 371.3 L504.8 372.0 L505.5 372.3 L506.2 370.9 L506.9 370.8 L507.6 370.8 L508.3 371.0 L509.0 371.5 L509.7 370.9 L510.4 370.8 L511.1 369.3 L511.8 368.7 L512.5 371.0 L513.2 372.0 L513.9 368.8 L514.6 370.8 L515.3 370.3 L516.0 371.0 L516.7 370.3 L517.4 370.9 L518.1 371.4 L518.8 371.2 L519.5 370.8 L520.2 369.8 L520.9 368.9 L521.6 371.4 L522.3 371.3 L523.0 371.4 L523.7 369.8 L524.4 372.9 L525.1 372.4 L525.8 370.8 L526.5 370.0 L527.2 369.7 L527.9 371.8 L528.6 370.6 L529.3 370.4 L530.0 369.0 L530.7 368.7 L531.4 370.6 L532.1 370.7 L532.8 369.9 L533.5 370.0 L534.2 371.1 L534.9 371.7 L535.6 372.5 L536.3 370.7 L537.0 370.9 L537.7 371.9 L538.4 370.0 L539.1 370.0 L539.8 370.7 L540.5 371.2 L541.2 371.8 L541.9 369.6 L542.6 372.0 L543.3 370.8 L544.0 370.1 L544.7 370.0 L545.4 370.8 L546.1 372.7 L546.8 369.5 L547.5 371.1 L548.2 371.9 L548.9 370.8 L549.6 371.1 L550.3 371.9 L551.0 371.0 L551.7 370.2 L552.4 372.6 L553.1 371.3 L553.8 372.5 L554.5 370.8 L555.2 370.7 L555.9 368.6 L556.6 370.8 L557.3 371.0 L558.0 370.2 L558.7 369.2 L559.4 369.9 L560.1 370.5 L560.8 370.6 L561.5 372.0 L562.2 370.8 L562.9 370.6 L563.6 370.6 L564.3 368.5 L565.0 371.2 L565.7 370.0 L566.4 369.6 L567.1 369.5 L567.8 368.8 L568.5 370.8 L569.2 369.1 L569.9 371.0 L570.6 371.0 L571.3 371.6 L572.0 370.6 L572.7 370.5 L573.4 369.7 L574.1 371.2 L574.8 369.8 L575.5 369.0 L576.2 371.3 L576.9 370.6 L577.6 371.9 L578.3 368.4 L579.0 374.1 L579.7 368.9 L580.4 370.2 L581.1 370.1 L581.8 368.8 L582.5 368.7 L583.2 370.2 L583.9 370.1 L584.6 369.0 L585.3 370.7 L586.0 369.5 L586.7 371.2 L587.4 370.8 L588.1 369.5 L588.3 369.7"/>
</g>
<line x1="124.85" y1="130.7" x2="124.85" y2="319" stroke="#000" stroke-width="1.5" stroke-dasharray="1.8 4.2"/>
<rect x="40.9" y="2.9" width="547.5" height="402.6" fill="none" stroke="#000" stroke-width="1.7"/>
<path d="M40.9 405.5 v8.5 M80.0 405.5 v4.6 M119.1 405.5 v8.5 M158.2 405.5 v4.6 M197.3 405.5 v8.5 M236.4 405.5 v4.6 M275.5 405.5 v8.5 M314.6 405.5 v4.6 M353.8 405.5 v8.5 M392.9 405.5 v4.6 M432.0 405.5 v8.5 M471.1 405.5 v4.6 M510.2 405.5 v8.5 M549.3 405.5 v4.6 M588.4 405.5 v8.5" stroke="#000" stroke-width="1.4" fill="none"/>
<path d="M68.6 21.5 V108.5 M65.4 21.5 H71.8 M65.4 108.5 H71.8" stroke="#000" stroke-width="1.4" fill="none"/>
<g font-family="'Liberation Serif', 'Times New Roman', serif" fill="#000">
<text transform="translate(40.9 435) scale(1 1.05)" font-size="21.4" text-anchor="middle">400</text>
<text transform="translate(119.1 435) scale(1 1.05)" font-size="21.4" text-anchor="middle">600</text>
<text transform="translate(197.3 435) scale(1 1.05)" font-size="21.4" text-anchor="middle">800</text>
<text transform="translate(275.5 435) scale(1 1.05)" font-size="21.4" text-anchor="middle">1000</text>
<text transform="translate(353.8 435) scale(1 1.05)" font-size="21.4" text-anchor="middle">1200</text>
<text transform="translate(432.0 435) scale(1 1.05)" font-size="21.4" text-anchor="middle">1400</text>
<text transform="translate(510.2 435) scale(1 1.05)" font-size="21.4" text-anchor="middle">1600</text>
<text transform="translate(588.4 435) scale(1 1.05)" font-size="21.4" text-anchor="middle">1800</text>
<text x="241.9" y="461.5" font-size="23">Raman shift (cm<tspan font-size="13.5" dy="-12.3">-1</tspan><tspan dy="12.3">)</tspan></text>
<text transform="translate(18.2 297.3) rotate(-90)" font-size="22">Raman intensity (a.u.)</text>
<text transform="translate(92.1 97.4) rotate(-90)" font-size="16.2">1000 CPS</text>
<text transform="translate(132.2 122.4) rotate(-90)" font-size="16.5">613</text>
<text transform="translate(156.5 67.6) scale(1 1.04)" font-size="17.8">λ<tspan font-size="14.5" dy="7">exc</tspan><tspan dy="-7">=532 nm</tspan></text>
<text transform="translate(383.7 165) scale(1 1.05)" font-size="19.3">10<tspan font-size="11.5" dy="-10.5">-7</tspan><tspan dy="10.5"> M</tspan></text>
<text transform="translate(385.6 230.8) scale(1 1.05)" font-size="19.3">10<tspan font-size="11.5" dy="-10.5">-12</tspan><tspan dy="10.5"> M</tspan></text>
<text transform="translate(387.7 310.4) scale(1 1.05)" font-size="19.3">10<tspan font-size="11.5" dy="-10.5">-15</tspan><tspan dy="10.5"> M</tspan></text>
<text x="354" y="392.8" font-size="17.7">Without rhodamine</text>
</g>
</svg>
</body></html>
